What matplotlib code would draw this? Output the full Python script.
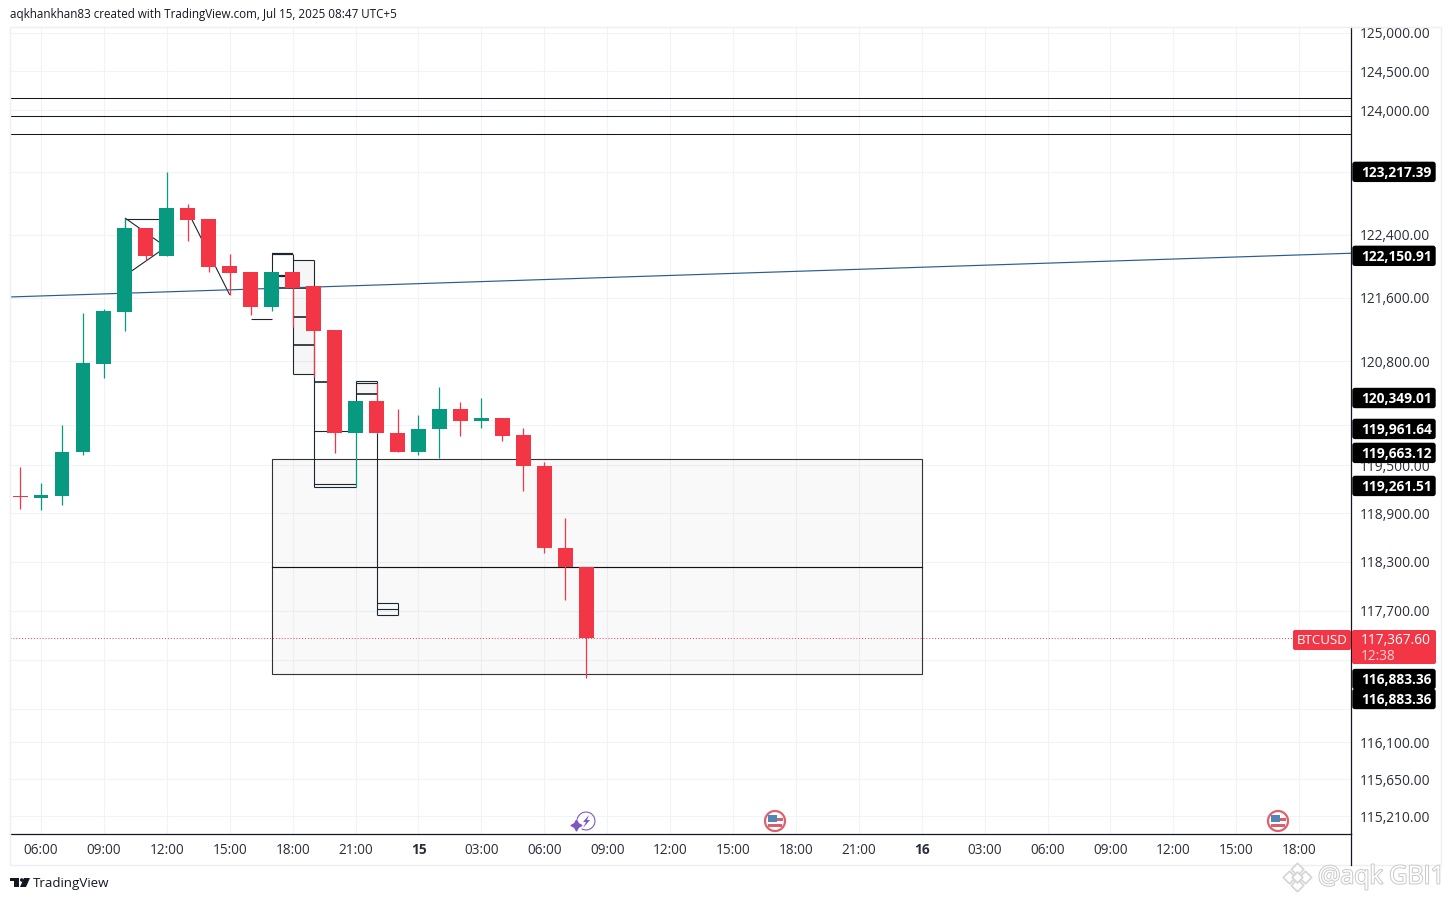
import matplotlib
matplotlib.use('Agg')
import matplotlib.pyplot as plt
import matplotlib.patheffects as pe
from matplotlib.patches import Rectangle, FancyBboxPatch, Circle, Polygon, Wedge

plt.rcParams['font.family'] = ['Open Sans', 'DejaVu Sans']

RED = '#f23645'
GREEN = '#089981'
TEXT = '#2a2e39'

# hourly candles, hour counted from Jul 14 00:00
hours = list(range(5, 33))
opens = [119115, 119085, 119115, 119664, 120766, 121421, 122488, 122132, 122743, 122603,
         122004, 121928, 121484, 121928, 121750, 121194, 119900, 120300, 119900, 119664,
         119950, 120200, 120050, 120088, 119875, 119489, 118473, 118238]
highs = [119476, 119277, 120000, 121408, 121459, 122615, 122488, 123203, 122794, 122603,
         122157, 121928, 121928, 121928, 121750, 121194, 120300, 120526, 120200, 120125,
         120476, 120287, 120337, 120088, 119963, 119539, 118843, 118238]
lows = [118954, 118942, 119003, 119626, 120589, 121182, 122081, 122132, 122323, 121928,
        121636, 121383, 121433, 121232, 120602, 119651, 119227, 119900, 119664, 119626,
        119589, 119863, 119963, 119801, 119177, 118411, 117832, 116883]
closes = [119102, 119127, 119664, 120778, 121433, 122488, 122132, 122743, 122590, 121992,
          121915, 121484, 121928, 121725, 121182, 119900, 120300, 119900, 119664, 119950,
          120200, 120050, 120088, 119863, 119489, 118473, 118238, 117367.6]

# y axis
grid_prices = [125000, 124500, 124000, 123200, 122400, 121600, 120800, 120000, 119500,
               118900, 118300, 117700, 117100, 116500, 116100, 115650, 115210]
grid_labels = ['125,000.00', '124,500.00', '124,000.00', '', '122,400.00', '121,600.00',
               '120,800.00', '', '119,500.00', '118,900.00', '118,300.00', '117,700.00',
               '', '', '116,100.00', '115,650.00', '115,210.00']
# x axis
time_ticks = [6, 9, 12, 15, 18, 21, 24, 27, 30, 33, 36, 39, 42, 45, 48, 51, 54, 57, 60, 63, 66]
time_labels = ['06:00', '09:00', '12:00', '15:00', '18:00', '21:00', '15', '03:00', '06:00',
               '09:00', '12:00', '15:00', '18:00', '21:00', '16', '03:00', '06:00', '09:00',
               '12:00', '15:00', '18:00']

# black price tags: text, price where the tag sits
tag_texts = ['123,217.39', '122,150.91', '120,349.01', '119,961.64', '119,663.12',
             '119,261.51', '116,883.36', '116,883.36']
tag_prices = [123205, 122132, 120337, 119950, 119651, 119240, 116866, 116623]

# drawings on the chart
level_prices = [124150, 123925, 123693]
trend_hours = [4.52, 68.47]
trend_prices = [121610, 122165]
zone_hours = [17, 48]
zone_prices = [116928, 119580]
zone_mid = 118243
last_price = 117367.6

# (hour, hour, price, price, width)
segments = [
    (10, 10, 122615, 122488, 1.0), (10, 11.67, 122603, 122603, 1.0),
    (10, 11.67, 122615, 122300, 1.0), (10, 11.67, 121880, 122190, 1.0),
    (13.2, 15, 122590, 121636, 1.0),
    (16, 17, 121333, 121333, 1.0),
    (17, 18, 122157, 122157, 2.0), (17, 17, 122157, 121928, 1.0),
    (18, 18, 122157, 120640, 1.0), (19, 19, 122081, 119227, 1.0),
    (18, 19, 122081, 122081, 1.0), (17, 19, 121725, 121725, 1.5),
    (18, 19, 121358, 121358, 1.5), (18, 19, 121005, 121005, 1.5),
    (18, 19, 120640, 120640, 1.0), (17, 18, 121877, 121877, 2.0),
    (19, 20, 120539, 120539, 1.5), (19, 21, 119925, 119925, 1.0),
    (19, 21, 119265, 119265, 1.0), (19, 21, 119227, 119227, 1.0),
    (21, 21, 120551, 120300, 1.0), (22, 22, 120551, 120300, 1.0),
    (21, 22, 120551, 120551, 1.0), (21, 22, 120526, 120526, 1.0),
    (21, 22, 120388, 120388, 1.5),
    (22, 22, 119900, 117649, 1.0), (23, 23, 117795, 117649, 1.0),
    (22, 23, 117795, 117795, 1.0), (22, 23, 117722, 117722, 1.0),
    (22, 23, 117649, 117649, 1.0),
]
shaded = [(18, 19, 120640, 122081), (17, 18, 121725, 121877), (21, 22, 120388, 120551)]

fig = plt.figure(figsize=(14.51, 9.01), dpi=100)
ax = fig.add_axes([10 / 1451, 67 / 901, 1341 / 1451, 807 / 901])
ax.set_yscale('log')
ax.set_xlim(4.52, 68.47)
ax.set_ylim(114994.5, 125078)

ax.set_yticks(grid_prices, labels=grid_labels)
ax.minorticks_off()
ax.yaxis.tick_right()
ax.set_xticks(time_ticks, labels=time_labels)
ax.tick_params(axis='y', length=0, pad=6.5, labelsize=9.9, labelcolor=TEXT)
ax.tick_params(axis='x', length=0, pad=6.5, labelsize=9.8, labelcolor=TEXT)
for t, s in zip(ax.get_xticklabels(), time_labels):
    if len(s) == 2:
        t.set_fontweight('bold')
ax.grid(True, color='#f1f3f6', lw=0.8)
ax.set_axisbelow(True)
for side in ['top', 'left']:
    ax.spines[side].set_visible(False)
ax.spines['right'].set_color('#131722')
ax.spines['bottom'].set_color('#131722')
ax.spines['right'].set_linewidth(0.9)
ax.spines['bottom'].set_linewidth(0.9)

# drawings
for p in level_prices:
    ax.axhline(p, color='#131722', lw=0.75, zorder=2)
ax.add_patch(Rectangle((zone_hours[0], zone_prices[0]), zone_hours[1] - zone_hours[0],
                       zone_prices[1] - zone_prices[0], fc=(0, 0, 0, 0.022), ec='#333333',
                       lw=0.8, zorder=2))
ax.plot(zone_hours, [zone_mid, zone_mid], color='#111111', lw=0.85, zorder=2)
for h0, h1, p0, p1 in shaded:
    ax.add_patch(Rectangle((h0, p0), h1 - h0, p1 - p0, fc=(0, 0, 0, 0.035), ec='none', zorder=2))
for h0, h1, p0, p1, w in segments:
    ax.plot([h0, h1], [p0, p1], color='#1c2530', lw=w * 0.8, zorder=2, solid_capstyle='butt')
ax.plot(trend_hours, trend_prices, color='#2b5c8f', lw=0.85, zorder=2.5)
ax.plot([trend_hours[0], 65.7], [last_price, last_price], color=RED, lw=0.7, ls=(0, (1, 2)), zorder=2.5)

# candles
colors = [GREEN if c >= o else RED for o, c in zip(opens, closes)]
ax.vlines(hours, lows, highs, colors=colors, lw=0.9, zorder=3)
bottoms = [min(o, c) for o, c in zip(opens, closes)]
heights = [abs(c - o) for o, c in zip(opens, closes)]
ax.bar(hours, heights, bottom=bottoms, width=0.71, color=colors, zorder=3.5)
ax.set_xlim(4.52, 68.47)
ax.set_ylim(114994.5, 125078)

# overlay in picture pixels for tags, frame, icons and captions
ov = fig.add_axes([0, 0, 1, 1], zorder=5)
ov.set_xlim(0, 1451)
ov.set_ylim(901, 0)
ov.axis('off')


def price_y(price):
    return 901 - ax.transData.transform((10, price))[1]


for s, p in zip(tag_texts, tag_prices):
    y = price_y(p)
    ov.add_patch(FancyBboxPatch((1353, y - 9.5), 82, 19, boxstyle='round,pad=0,rounding_size=2',
                                fc='black', ec='black', lw=1))
    ov.text(1361, y + 1, s, color='white', fontsize=9.9, fontweight='bold', va='center', ha='left')

# last price tag
ov.add_patch(FancyBboxPatch((1293, 630), 58, 20, boxstyle='round,pad=0,rounding_size=2', fc=RED, ec='none'))
ov.add_patch(FancyBboxPatch((1352, 630), 84, 34, boxstyle='round,pad=0,rounding_size=2', fc=RED, ec='none'))
ov.text(1297, 640.5, 'BTCUSD', color='white', fontsize=9.5, va='center', ha='left')
ov.text(1361, 640.5, '117,367.60', color='white', fontsize=9.9, va='center', ha='left')
ov.text(1361, 656, '12:38', color='#fbd5d8', fontsize=9.8, va='center', ha='left')

# frame
ov.add_patch(Rectangle((10, 27), 1431, 838, fc='none', ec='#eeeff2', lw=1))
ov.plot([1351, 1351], [834, 865], color='#131722', lw=0.9)

# header and footer
ov.text(10, 14.5, 'aqkhankhan83 created with TradingView.com, Jul 15, 2025 08:47 UTC+5',
        color='#131722', fontsize=8.4, va='center', ha='left')
ov.add_patch(Polygon([(10, 878), (19, 878), (19, 887), (14, 887), (14, 881), (10, 881)], fc='#131722'))
ov.add_patch(Circle((21.8, 880), 1.8, fc='#131722'))
ov.add_patch(Polygon([(24, 878), (30, 878), (26, 887), (20, 887)], fc='#131722'))
ov.text(33, 883.5, 'TradingView', color='#131722', fontsize=9.6, va='center', ha='left')

# event icons
ov.add_patch(Wedge((586, 821), 9.5, 190, 480, width=1.1, fc='#7e57c2', ec='none'))
ov.add_patch(Polygon([(589, 815), (583, 822), (586, 822), (583, 828), (590, 820), (587, 820)], fc='#7e57c2'))
ov.scatter([576], [825], marker=(4, 1, 0), s=60, color='#7e57c2', zorder=6)
for cx in [775, 1278]:
    ov.add_patch(Circle((cx, 821), 10, fc='white', ec='#e0606d', lw=1.6))
    ov.add_patch(Rectangle((cx - 7.5, 814.5), 9, 7, fc='#4f86b5', ec='none'))
    ov.add_patch(Rectangle((cx + 1.5, 818), 6, 3, fc='#d9606b', ec='none'))
    ov.add_patch(Rectangle((cx - 7, 824), 14, 2.5, fc='#d9606b', ec='none'))

# watermark
for dx, dy, size in [(0, -8, 40), (0, 8, 40), (-8, 0, 40), (8, 0, 40), (0, 0, 30)]:
    ov.scatter([1297 + dx], [877 + dy], marker='D', s=size, fc='white', ec='#d4d4d4', lw=1.2, zorder=6)
ov.text(1318, 877, '@aqk GBI1', color='white', fontsize=18, va='center', ha='left',
        path_effects=[pe.withStroke(linewidth=1.4, foreground='#c8c8c8')], zorder=6)

fig.savefig('out.png', dpi=100)
